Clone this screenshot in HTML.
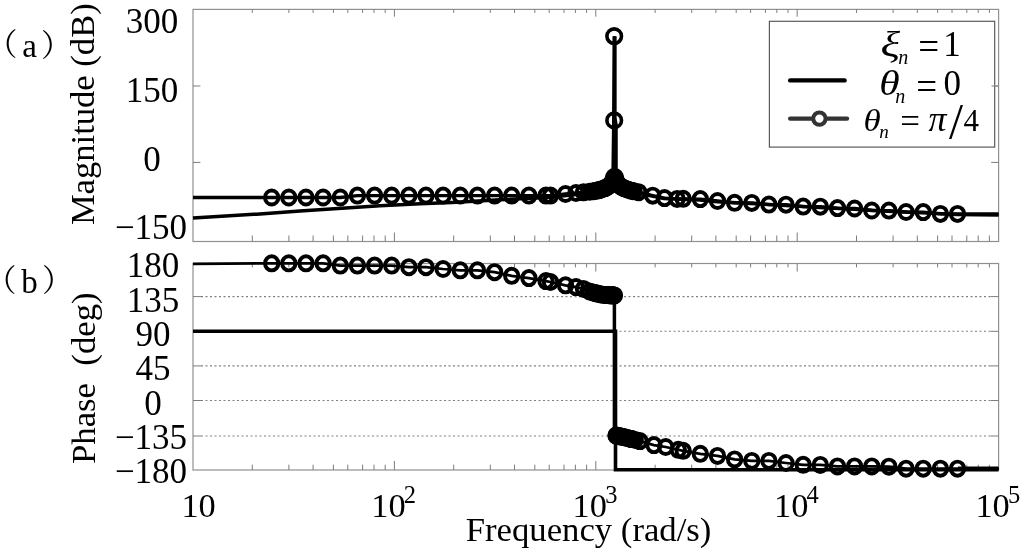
<!DOCTYPE html>
<html lang="en"><head><meta charset="utf-8"><title>Bode plot</title>
<style>html,body{margin:0;padding:0;background:#fff;}body{width:1024px;height:558px;overflow:hidden;}svg{display:block;filter:blur(0.5px);}text{font-family:"Liberation Serif","Noto Serif CJK SC",serif;fill:#000;}</style></head><body>
<svg width="1024" height="558" viewBox="0 0 1024 558">
<rect x="0" y="0" width="1024" height="558" fill="#fff"/>
<rect x="193.0" y="9.4" width="805.6" height="232.1" fill="none" stroke="#909090" stroke-width="1.2"/>
<path d="M252.3 241.5v-6.0M252.3 9.4v3.5M288.9 241.5v-6.0M288.9 9.4v3.5M313.1 241.5v-6.0M313.1 9.4v3.5M333.4 241.5v-6.0M333.4 9.4v3.5M347.8 241.5v-6.0M347.8 9.4v3.5M362.6 241.5v-6.0M362.6 9.4v3.5M374.0 241.5v-6.0M374.0 9.4v3.5M385.2 241.5v-6.0M385.2 9.4v3.5M394.4 241.5v-9.0M394.4 9.4v7.3M453.7 241.5v-6.0M453.7 9.4v3.5M490.3 241.5v-6.0M490.3 9.4v3.5M514.5 241.5v-6.0M514.5 9.4v3.5M534.8 241.5v-6.0M534.8 9.4v3.5M549.2 241.5v-6.0M549.2 9.4v3.5M564.0 241.5v-6.0M564.0 9.4v3.5M575.4 241.5v-6.0M575.4 9.4v3.5M586.6 241.5v-6.0M586.6 9.4v3.5M595.8 241.5v-9.0M595.8 9.4v7.3M655.1 241.5v-6.0M655.1 9.4v3.5M691.7 241.5v-6.0M691.7 9.4v3.5M715.9 241.5v-6.0M715.9 9.4v3.5M736.2 241.5v-6.0M736.2 9.4v3.5M750.6 241.5v-6.0M750.6 9.4v3.5M765.4 241.5v-6.0M765.4 9.4v3.5M776.8 241.5v-6.0M776.8 9.4v3.5M788.0 241.5v-6.0M788.0 9.4v3.5M797.2 241.5v-9.0M797.2 9.4v7.3M856.5 241.5v-6.0M856.5 9.4v3.5M893.1 241.5v-6.0M893.1 9.4v3.5M917.3 241.5v-6.0M917.3 9.4v3.5M937.6 241.5v-6.0M937.6 9.4v3.5M952.0 241.5v-6.0M952.0 9.4v3.5M966.8 241.5v-6.0M966.8 9.4v3.5M978.2 241.5v-6.0M978.2 9.4v3.5M989.4 241.5v-6.0M989.4 9.4v3.5M193.0 86.0h7.4M998.6 86.0h-7.4M193.0 162.4h7.4M998.6 162.4h-7.4" stroke="#7c7c7c" stroke-width="1" fill="none"/>
<line x1="201.0" y1="296.6" x2="990.6" y2="296.6" stroke="#808080" stroke-width="1.1" stroke-dasharray="2 2.5"/>
<line x1="201.0" y1="331.3" x2="990.6" y2="331.3" stroke="#808080" stroke-width="1.1" stroke-dasharray="2 2.5"/>
<line x1="201.0" y1="365.9" x2="990.6" y2="365.9" stroke="#808080" stroke-width="1.1" stroke-dasharray="2 2.5"/>
<line x1="201.0" y1="400.5" x2="990.6" y2="400.5" stroke="#808080" stroke-width="1.1" stroke-dasharray="2 2.5"/>
<line x1="201.0" y1="436.0" x2="990.6" y2="436.0" stroke="#808080" stroke-width="1.1" stroke-dasharray="2 2.5"/>
<rect x="193.0" y="263.5" width="805.6" height="206.5" fill="none" stroke="#909090" stroke-width="1.2"/>
<path d="M252.3 470.0v-5.3M252.3 263.5v3.9M288.9 470.0v-5.3M288.9 263.5v3.9M313.1 470.0v-5.3M313.1 263.5v3.9M333.4 470.0v-5.3M333.4 263.5v3.9M347.8 470.0v-5.3M347.8 263.5v3.9M362.6 470.0v-5.3M362.6 263.5v3.9M374.0 470.0v-5.3M374.0 263.5v3.9M385.2 470.0v-5.3M385.2 263.5v3.9M394.4 470.0v-9.0M394.4 263.5v8.0M453.7 470.0v-5.3M453.7 263.5v3.9M490.3 470.0v-5.3M490.3 263.5v3.9M514.5 470.0v-5.3M514.5 263.5v3.9M534.8 470.0v-5.3M534.8 263.5v3.9M549.2 470.0v-5.3M549.2 263.5v3.9M564.0 470.0v-5.3M564.0 263.5v3.9M575.4 470.0v-5.3M575.4 263.5v3.9M586.6 470.0v-5.3M586.6 263.5v3.9M595.8 470.0v-9.0M595.8 263.5v8.0M655.1 470.0v-5.3M655.1 263.5v3.9M691.7 470.0v-5.3M691.7 263.5v3.9M715.9 470.0v-5.3M715.9 263.5v3.9M736.2 470.0v-5.3M736.2 263.5v3.9M750.6 470.0v-5.3M750.6 263.5v3.9M765.4 470.0v-5.3M765.4 263.5v3.9M776.8 470.0v-5.3M776.8 263.5v3.9M788.0 470.0v-5.3M788.0 263.5v3.9M797.2 470.0v-9.0M797.2 263.5v8.0M856.5 470.0v-5.3M856.5 263.5v3.9M893.1 470.0v-5.3M893.1 263.5v3.9M917.3 470.0v-5.3M917.3 263.5v3.9M937.6 470.0v-5.3M937.6 263.5v3.9M952.0 470.0v-5.3M952.0 263.5v3.9M966.8 470.0v-5.3M966.8 263.5v3.9M978.2 470.0v-5.3M978.2 263.5v3.9M989.4 470.0v-5.3M989.4 263.5v3.9M193.0 296.6h8.0M998.6 296.6h-8.0M193.0 331.3h8.0M998.6 331.3h-8.0M193.0 365.9h8.0M998.6 365.9h-8.0M193.0 400.5h8.0M998.6 400.5h-8.0M193.0 436.0h8.0M998.6 436.0h-8.0" stroke="#7c7c7c" stroke-width="1" fill="none"/>
<g>
<polyline points="193.0,218.0 260.0,213.9 300.0,211.0 380.0,205.7 420.0,203.8 452.0,202.6 500.0,199.8 550.0,197.2 585.0,193.5 600.0,190.0 608.0,186.0 613.0,180.0 614.9,36.2 614.9,118.0 616.0,125.0 616.0,180.0 622.0,186.0 630.0,190.5 645.0,194.5 664.0,198.6 700.0,200.0 717.4,201.8 751.0,203.6 786.0,205.4 820.0,207.4 854.0,209.2 888.0,211.3 922.0,212.8 957.0,214.6 998.6,214.9" fill="none" stroke="#000" stroke-width="3.5" stroke-linejoin="miter" stroke-miterlimit="2" />
<polyline points="193.0,197.5 271.7,197.5 288.8,197.5 306.0,197.5 323.1,197.5 340.3,197.5 357.4,195.6 374.6,195.6 391.7,195.6 408.9,195.6 426.0,195.6 443.1,195.6 460.3,195.6 477.4,195.6 494.6,195.6 511.7,195.6 528.9,195.6 546.0,195.6 550.5,195.6 565.5,194.0 576.0,193.0 583.5,192.3 589.5,191.7 593.0,191.2 596.0,190.7 597.5,190.4 599.0,190.1 601.0,189.5 603.0,188.9 605.0,188.1 606.5,187.4 608.0,186.5 609.5,185.4 610.5,184.5 611.5,183.2 612.5,181.5 613.3,179.3 613.9,177.0 614.0,177.0 614.1,36.2 614.3,177.0 615.1,177.0 615.7,179.3 616.5,181.5 617.5,183.3 618.5,184.5 619.5,185.5 621.0,186.6 622.5,187.5 624.0,188.2 626.0,189.0 628.0,189.7 630.5,190.4 631.7,190.7 634.0,191.3 638.7,192.2 652.7,195.7 664.5,198.1 677.1,198.9 683.2,198.8 700.3,199.1 717.5,201.0 734.6,202.8 751.8,202.9 768.9,204.6 786.0,204.7 803.2,206.6 820.3,206.7 837.5,208.1 854.6,208.5 871.8,210.5 888.9,210.6 906.1,212.0 923.2,212.1 940.4,213.9 957.5,213.9 998.6,213.8" fill="none" stroke="#000" stroke-width="3.3" stroke-linejoin="miter" stroke-miterlimit="2" />
<ellipse cx="271.7" cy="197.5" rx="6.7" ry="7.05" fill="none" stroke="#000" stroke-width="3.9"/>
<ellipse cx="288.8" cy="197.5" rx="6.7" ry="7.05" fill="none" stroke="#000" stroke-width="3.9"/>
<ellipse cx="306.0" cy="197.5" rx="6.7" ry="7.05" fill="none" stroke="#000" stroke-width="3.9"/>
<ellipse cx="323.1" cy="197.5" rx="6.7" ry="7.05" fill="none" stroke="#000" stroke-width="3.9"/>
<ellipse cx="340.3" cy="197.5" rx="6.7" ry="7.05" fill="none" stroke="#000" stroke-width="3.9"/>
<ellipse cx="357.4" cy="195.6" rx="6.7" ry="7.05" fill="none" stroke="#000" stroke-width="3.9"/>
<ellipse cx="374.6" cy="195.6" rx="6.7" ry="7.05" fill="none" stroke="#000" stroke-width="3.9"/>
<ellipse cx="391.7" cy="195.6" rx="6.7" ry="7.05" fill="none" stroke="#000" stroke-width="3.9"/>
<ellipse cx="408.9" cy="195.6" rx="6.7" ry="7.05" fill="none" stroke="#000" stroke-width="3.9"/>
<ellipse cx="426.0" cy="195.6" rx="6.7" ry="7.05" fill="none" stroke="#000" stroke-width="3.9"/>
<ellipse cx="443.1" cy="195.6" rx="6.7" ry="7.05" fill="none" stroke="#000" stroke-width="3.9"/>
<ellipse cx="460.3" cy="195.6" rx="6.7" ry="7.05" fill="none" stroke="#000" stroke-width="3.9"/>
<ellipse cx="477.4" cy="195.6" rx="6.7" ry="7.05" fill="none" stroke="#000" stroke-width="3.9"/>
<ellipse cx="494.6" cy="195.6" rx="6.7" ry="7.05" fill="none" stroke="#000" stroke-width="3.9"/>
<ellipse cx="511.7" cy="195.6" rx="6.7" ry="7.05" fill="none" stroke="#000" stroke-width="3.9"/>
<ellipse cx="528.9" cy="195.6" rx="6.7" ry="7.05" fill="none" stroke="#000" stroke-width="3.9"/>
<ellipse cx="546.0" cy="195.6" rx="6.7" ry="7.05" fill="none" stroke="#000" stroke-width="3.9"/>
<ellipse cx="550.5" cy="195.6" rx="6.7" ry="7.05" fill="none" stroke="#000" stroke-width="3.9"/>
<ellipse cx="565.5" cy="194.0" rx="6.7" ry="7.05" fill="none" stroke="#000" stroke-width="3.9"/>
<ellipse cx="576.0" cy="193.0" rx="6.7" ry="7.05" fill="none" stroke="#000" stroke-width="3.9"/>
<ellipse cx="583.5" cy="192.3" rx="6.7" ry="7.05" fill="none" stroke="#000" stroke-width="3.9"/>
<ellipse cx="589.5" cy="191.7" rx="6.7" ry="7.05" fill="none" stroke="#000" stroke-width="3.9"/>
<ellipse cx="593.0" cy="191.2" rx="6.7" ry="7.05" fill="none" stroke="#000" stroke-width="3.9"/>
<ellipse cx="596.0" cy="190.7" rx="6.7" ry="7.05" fill="none" stroke="#000" stroke-width="3.9"/>
<ellipse cx="597.5" cy="190.4" rx="6.7" ry="7.05" fill="none" stroke="#000" stroke-width="3.9"/>
<ellipse cx="599.0" cy="190.1" rx="6.7" ry="7.05" fill="none" stroke="#000" stroke-width="3.9"/>
<ellipse cx="601.0" cy="189.5" rx="6.7" ry="7.05" fill="none" stroke="#000" stroke-width="3.9"/>
<ellipse cx="603.0" cy="188.9" rx="6.7" ry="7.05" fill="none" stroke="#000" stroke-width="3.9"/>
<ellipse cx="605.0" cy="188.1" rx="6.7" ry="7.05" fill="none" stroke="#000" stroke-width="3.9"/>
<ellipse cx="606.5" cy="187.4" rx="6.7" ry="7.05" fill="none" stroke="#000" stroke-width="3.9"/>
<ellipse cx="608.0" cy="186.5" rx="6.7" ry="7.05" fill="none" stroke="#000" stroke-width="3.9"/>
<ellipse cx="609.5" cy="185.4" rx="6.7" ry="7.05" fill="none" stroke="#000" stroke-width="3.9"/>
<ellipse cx="610.5" cy="184.5" rx="6.7" ry="7.05" fill="none" stroke="#000" stroke-width="3.9"/>
<ellipse cx="611.5" cy="183.2" rx="6.7" ry="7.05" fill="none" stroke="#000" stroke-width="3.9"/>
<ellipse cx="612.5" cy="181.5" rx="6.7" ry="7.05" fill="none" stroke="#000" stroke-width="3.9"/>
<ellipse cx="613.3" cy="179.3" rx="6.7" ry="7.05" fill="none" stroke="#000" stroke-width="3.9"/>
<ellipse cx="613.9" cy="177.0" rx="6.7" ry="7.05" fill="none" stroke="#000" stroke-width="3.9"/>
<ellipse cx="615.1" cy="177.0" rx="6.7" ry="7.05" fill="none" stroke="#000" stroke-width="3.9"/>
<ellipse cx="615.7" cy="179.3" rx="6.7" ry="7.05" fill="none" stroke="#000" stroke-width="3.9"/>
<ellipse cx="616.5" cy="181.5" rx="6.7" ry="7.05" fill="none" stroke="#000" stroke-width="3.9"/>
<ellipse cx="617.5" cy="183.3" rx="6.7" ry="7.05" fill="none" stroke="#000" stroke-width="3.9"/>
<ellipse cx="618.5" cy="184.5" rx="6.7" ry="7.05" fill="none" stroke="#000" stroke-width="3.9"/>
<ellipse cx="619.5" cy="185.5" rx="6.7" ry="7.05" fill="none" stroke="#000" stroke-width="3.9"/>
<ellipse cx="621.0" cy="186.6" rx="6.7" ry="7.05" fill="none" stroke="#000" stroke-width="3.9"/>
<ellipse cx="622.5" cy="187.5" rx="6.7" ry="7.05" fill="none" stroke="#000" stroke-width="3.9"/>
<ellipse cx="624.0" cy="188.2" rx="6.7" ry="7.05" fill="none" stroke="#000" stroke-width="3.9"/>
<ellipse cx="626.0" cy="189.0" rx="6.7" ry="7.05" fill="none" stroke="#000" stroke-width="3.9"/>
<ellipse cx="628.0" cy="189.7" rx="6.7" ry="7.05" fill="none" stroke="#000" stroke-width="3.9"/>
<ellipse cx="630.5" cy="190.4" rx="6.7" ry="7.05" fill="none" stroke="#000" stroke-width="3.9"/>
<ellipse cx="631.7" cy="190.7" rx="6.7" ry="7.05" fill="none" stroke="#000" stroke-width="3.9"/>
<ellipse cx="634.0" cy="191.3" rx="6.7" ry="7.05" fill="none" stroke="#000" stroke-width="3.9"/>
<ellipse cx="638.7" cy="192.2" rx="6.7" ry="7.05" fill="none" stroke="#000" stroke-width="3.9"/>
<ellipse cx="652.7" cy="195.7" rx="6.7" ry="7.05" fill="none" stroke="#000" stroke-width="3.9"/>
<ellipse cx="664.5" cy="198.1" rx="6.7" ry="7.05" fill="none" stroke="#000" stroke-width="3.9"/>
<ellipse cx="677.1" cy="198.9" rx="6.7" ry="7.05" fill="none" stroke="#000" stroke-width="3.9"/>
<ellipse cx="683.2" cy="198.8" rx="6.7" ry="7.05" fill="none" stroke="#000" stroke-width="3.9"/>
<ellipse cx="700.3" cy="199.1" rx="6.7" ry="7.05" fill="none" stroke="#000" stroke-width="3.9"/>
<ellipse cx="717.5" cy="201.0" rx="6.7" ry="7.05" fill="none" stroke="#000" stroke-width="3.9"/>
<ellipse cx="734.6" cy="202.8" rx="6.7" ry="7.05" fill="none" stroke="#000" stroke-width="3.9"/>
<ellipse cx="751.8" cy="202.9" rx="6.7" ry="7.05" fill="none" stroke="#000" stroke-width="3.9"/>
<ellipse cx="768.9" cy="204.6" rx="6.7" ry="7.05" fill="none" stroke="#000" stroke-width="3.9"/>
<ellipse cx="786.0" cy="204.7" rx="6.7" ry="7.05" fill="none" stroke="#000" stroke-width="3.9"/>
<ellipse cx="803.2" cy="206.6" rx="6.7" ry="7.05" fill="none" stroke="#000" stroke-width="3.9"/>
<ellipse cx="820.3" cy="206.7" rx="6.7" ry="7.05" fill="none" stroke="#000" stroke-width="3.9"/>
<ellipse cx="837.5" cy="208.1" rx="6.7" ry="7.05" fill="none" stroke="#000" stroke-width="3.9"/>
<ellipse cx="854.6" cy="208.5" rx="6.7" ry="7.05" fill="none" stroke="#000" stroke-width="3.9"/>
<ellipse cx="871.8" cy="210.5" rx="6.7" ry="7.05" fill="none" stroke="#000" stroke-width="3.9"/>
<ellipse cx="888.9" cy="210.6" rx="6.7" ry="7.05" fill="none" stroke="#000" stroke-width="3.9"/>
<ellipse cx="906.1" cy="212.0" rx="6.7" ry="7.05" fill="none" stroke="#000" stroke-width="3.9"/>
<ellipse cx="923.2" cy="212.1" rx="6.7" ry="7.05" fill="none" stroke="#000" stroke-width="3.9"/>
<ellipse cx="940.4" cy="213.9" rx="6.7" ry="7.05" fill="none" stroke="#000" stroke-width="3.9"/>
<ellipse cx="957.5" cy="213.9" rx="6.7" ry="7.05" fill="none" stroke="#000" stroke-width="3.9"/>
<ellipse cx="614.2" cy="36.2" rx="7.3" ry="7.3" fill="none" stroke="#000" stroke-width="3.6"/>
<ellipse cx="614.2" cy="120.4" rx="7.3" ry="7.3" fill="none" stroke="#000" stroke-width="3.6"/>
</g>
<g>
<polyline points="193.0,331.3 615.5,331.3 615.5,469.8 998.6,469.8" fill="none" stroke="#000" stroke-width="3.6" stroke-linejoin="miter" stroke-miterlimit="2" />
<polyline points="193.0,263.9 271.7,263.3 288.8,263.3 306.0,263.3 323.1,263.3 340.3,265.6 357.4,265.6 374.6,265.6 391.7,265.6 408.9,267.2 426.0,267.2 443.1,269.0 460.3,270.3 477.4,270.3 494.6,272.2 511.7,275.8 528.9,278.1 546.0,281.1 550.5,282.0 565.5,285.3 576.0,287.1 583.5,288.9 589.5,291.4 593.0,292.5 596.0,293.3 597.5,293.6 599.0,294.0 601.0,294.4 603.0,294.7 605.0,295.0 606.5,295.1 608.0,295.1 609.5,295.2 610.5,295.2 611.5,295.3 612.5,295.3 613.3,295.3 613.9,295.4 614.4,295.4 614.4,295.4 614.4,435.5 616.0,435.5 616.3,435.6 616.9,435.7 617.7,435.8 618.7,436.0 619.7,436.2 620.7,436.4 622.2,436.7 623.7,437.0 625.2,437.4 627.2,437.9 629.2,438.4 631.7,439.1 631.7,439.1 635.2,440.0 639.9,441.1 653.9,445.1 665.7,447.0 678.3,449.8 683.2,450.8 700.3,453.8 717.5,455.9 734.6,459.4 751.8,460.9 768.9,460.9 786.0,463.0 803.2,464.8 820.3,464.9 837.5,466.4 854.6,466.4 871.8,466.4 888.9,466.7 906.1,468.7 923.2,468.7 940.4,468.7 957.5,468.7 998.6,468.7" fill="none" stroke="#000" stroke-width="2.7" stroke-linejoin="miter" stroke-miterlimit="2" />
<line x1="614.4" y1="296" x2="614.4" y2="436" stroke="#000" stroke-width="3.5"/>
<line x1="958" y1="468.5" x2="998.6" y2="468.3" stroke="#000" stroke-width="3.8"/>
<ellipse cx="271.7" cy="263.3" rx="6.7" ry="7.05" fill="none" stroke="#000" stroke-width="3.9"/>
<ellipse cx="288.8" cy="263.3" rx="6.7" ry="7.05" fill="none" stroke="#000" stroke-width="3.9"/>
<ellipse cx="306.0" cy="263.3" rx="6.7" ry="7.05" fill="none" stroke="#000" stroke-width="3.9"/>
<ellipse cx="323.1" cy="263.3" rx="6.7" ry="7.05" fill="none" stroke="#000" stroke-width="3.9"/>
<ellipse cx="340.3" cy="265.6" rx="6.7" ry="7.05" fill="none" stroke="#000" stroke-width="3.9"/>
<ellipse cx="357.4" cy="265.6" rx="6.7" ry="7.05" fill="none" stroke="#000" stroke-width="3.9"/>
<ellipse cx="374.6" cy="265.6" rx="6.7" ry="7.05" fill="none" stroke="#000" stroke-width="3.9"/>
<ellipse cx="391.7" cy="265.6" rx="6.7" ry="7.05" fill="none" stroke="#000" stroke-width="3.9"/>
<ellipse cx="408.9" cy="267.2" rx="6.7" ry="7.05" fill="none" stroke="#000" stroke-width="3.9"/>
<ellipse cx="426.0" cy="267.2" rx="6.7" ry="7.05" fill="none" stroke="#000" stroke-width="3.9"/>
<ellipse cx="443.1" cy="269.0" rx="6.7" ry="7.05" fill="none" stroke="#000" stroke-width="3.9"/>
<ellipse cx="460.3" cy="270.3" rx="6.7" ry="7.05" fill="none" stroke="#000" stroke-width="3.9"/>
<ellipse cx="477.4" cy="270.3" rx="6.7" ry="7.05" fill="none" stroke="#000" stroke-width="3.9"/>
<ellipse cx="494.6" cy="272.2" rx="6.7" ry="7.05" fill="none" stroke="#000" stroke-width="3.9"/>
<ellipse cx="511.7" cy="275.8" rx="6.7" ry="7.05" fill="none" stroke="#000" stroke-width="3.9"/>
<ellipse cx="528.9" cy="278.1" rx="6.7" ry="7.05" fill="none" stroke="#000" stroke-width="3.9"/>
<ellipse cx="546.0" cy="281.1" rx="6.7" ry="7.05" fill="none" stroke="#000" stroke-width="3.9"/>
<ellipse cx="550.5" cy="282.0" rx="6.7" ry="7.05" fill="none" stroke="#000" stroke-width="3.9"/>
<ellipse cx="565.5" cy="285.3" rx="6.7" ry="7.05" fill="none" stroke="#000" stroke-width="3.9"/>
<ellipse cx="576.0" cy="287.1" rx="6.7" ry="7.05" fill="none" stroke="#000" stroke-width="3.9"/>
<ellipse cx="583.5" cy="288.9" rx="6.7" ry="7.05" fill="none" stroke="#000" stroke-width="3.9"/>
<ellipse cx="589.5" cy="291.4" rx="6.7" ry="7.05" fill="none" stroke="#000" stroke-width="3.9"/>
<ellipse cx="593.0" cy="292.5" rx="6.7" ry="7.05" fill="none" stroke="#000" stroke-width="3.9"/>
<ellipse cx="596.0" cy="293.3" rx="6.7" ry="7.05" fill="none" stroke="#000" stroke-width="3.9"/>
<ellipse cx="597.5" cy="293.6" rx="6.7" ry="7.05" fill="none" stroke="#000" stroke-width="3.9"/>
<ellipse cx="599.0" cy="294.0" rx="6.7" ry="7.05" fill="none" stroke="#000" stroke-width="3.9"/>
<ellipse cx="601.0" cy="294.4" rx="6.7" ry="7.05" fill="none" stroke="#000" stroke-width="3.9"/>
<ellipse cx="603.0" cy="294.7" rx="6.7" ry="7.05" fill="none" stroke="#000" stroke-width="3.9"/>
<ellipse cx="605.0" cy="295.0" rx="6.7" ry="7.05" fill="none" stroke="#000" stroke-width="3.9"/>
<ellipse cx="606.5" cy="295.1" rx="6.7" ry="7.05" fill="none" stroke="#000" stroke-width="3.9"/>
<ellipse cx="608.0" cy="295.1" rx="6.7" ry="7.05" fill="none" stroke="#000" stroke-width="3.9"/>
<ellipse cx="609.5" cy="295.2" rx="6.7" ry="7.05" fill="none" stroke="#000" stroke-width="3.9"/>
<ellipse cx="610.5" cy="295.2" rx="6.7" ry="7.05" fill="none" stroke="#000" stroke-width="3.9"/>
<ellipse cx="611.5" cy="295.3" rx="6.7" ry="7.05" fill="none" stroke="#000" stroke-width="3.9"/>
<ellipse cx="612.5" cy="295.3" rx="6.7" ry="7.05" fill="none" stroke="#000" stroke-width="3.9"/>
<ellipse cx="613.3" cy="295.3" rx="6.7" ry="7.05" fill="none" stroke="#000" stroke-width="3.9"/>
<ellipse cx="613.9" cy="295.4" rx="6.7" ry="7.05" fill="none" stroke="#000" stroke-width="3.9"/>
<ellipse cx="614.4" cy="295.4" rx="6.7" ry="7.05" fill="none" stroke="#000" stroke-width="3.9"/>
<ellipse cx="616.0" cy="435.5" rx="6.7" ry="7.05" fill="none" stroke="#000" stroke-width="3.9"/>
<ellipse cx="616.3" cy="435.6" rx="6.7" ry="7.05" fill="none" stroke="#000" stroke-width="3.9"/>
<ellipse cx="616.9" cy="435.7" rx="6.7" ry="7.05" fill="none" stroke="#000" stroke-width="3.9"/>
<ellipse cx="617.7" cy="435.8" rx="6.7" ry="7.05" fill="none" stroke="#000" stroke-width="3.9"/>
<ellipse cx="618.7" cy="436.0" rx="6.7" ry="7.05" fill="none" stroke="#000" stroke-width="3.9"/>
<ellipse cx="619.7" cy="436.2" rx="6.7" ry="7.05" fill="none" stroke="#000" stroke-width="3.9"/>
<ellipse cx="620.7" cy="436.4" rx="6.7" ry="7.05" fill="none" stroke="#000" stroke-width="3.9"/>
<ellipse cx="622.2" cy="436.7" rx="6.7" ry="7.05" fill="none" stroke="#000" stroke-width="3.9"/>
<ellipse cx="623.7" cy="437.0" rx="6.7" ry="7.05" fill="none" stroke="#000" stroke-width="3.9"/>
<ellipse cx="625.2" cy="437.4" rx="6.7" ry="7.05" fill="none" stroke="#000" stroke-width="3.9"/>
<ellipse cx="627.2" cy="437.9" rx="6.7" ry="7.05" fill="none" stroke="#000" stroke-width="3.9"/>
<ellipse cx="629.2" cy="438.4" rx="6.7" ry="7.05" fill="none" stroke="#000" stroke-width="3.9"/>
<ellipse cx="631.7" cy="439.1" rx="6.7" ry="7.05" fill="none" stroke="#000" stroke-width="3.9"/>
<ellipse cx="631.7" cy="439.1" rx="6.7" ry="7.05" fill="none" stroke="#000" stroke-width="3.9"/>
<ellipse cx="635.2" cy="440.0" rx="6.7" ry="7.05" fill="none" stroke="#000" stroke-width="3.9"/>
<ellipse cx="639.9" cy="441.1" rx="6.7" ry="7.05" fill="none" stroke="#000" stroke-width="3.9"/>
<ellipse cx="653.9" cy="445.1" rx="6.7" ry="7.05" fill="none" stroke="#000" stroke-width="3.9"/>
<ellipse cx="665.7" cy="447.0" rx="6.7" ry="7.05" fill="none" stroke="#000" stroke-width="3.9"/>
<ellipse cx="678.3" cy="449.8" rx="6.7" ry="7.05" fill="none" stroke="#000" stroke-width="3.9"/>
<ellipse cx="683.2" cy="450.8" rx="6.7" ry="7.05" fill="none" stroke="#000" stroke-width="3.9"/>
<ellipse cx="700.3" cy="453.8" rx="6.7" ry="7.05" fill="none" stroke="#000" stroke-width="3.9"/>
<ellipse cx="717.5" cy="455.9" rx="6.7" ry="7.05" fill="none" stroke="#000" stroke-width="3.9"/>
<ellipse cx="734.6" cy="459.4" rx="6.7" ry="7.05" fill="none" stroke="#000" stroke-width="3.9"/>
<ellipse cx="751.8" cy="460.9" rx="6.7" ry="7.05" fill="none" stroke="#000" stroke-width="3.9"/>
<ellipse cx="768.9" cy="460.9" rx="6.7" ry="7.05" fill="none" stroke="#000" stroke-width="3.9"/>
<ellipse cx="786.0" cy="463.0" rx="6.7" ry="7.05" fill="none" stroke="#000" stroke-width="3.9"/>
<ellipse cx="803.2" cy="464.8" rx="6.7" ry="7.05" fill="none" stroke="#000" stroke-width="3.9"/>
<ellipse cx="820.3" cy="464.9" rx="6.7" ry="7.05" fill="none" stroke="#000" stroke-width="3.9"/>
<ellipse cx="837.5" cy="466.4" rx="6.7" ry="7.05" fill="none" stroke="#000" stroke-width="3.9"/>
<ellipse cx="854.6" cy="466.4" rx="6.7" ry="7.05" fill="none" stroke="#000" stroke-width="3.9"/>
<ellipse cx="871.8" cy="466.4" rx="6.7" ry="7.05" fill="none" stroke="#000" stroke-width="3.9"/>
<ellipse cx="888.9" cy="466.7" rx="6.7" ry="7.05" fill="none" stroke="#000" stroke-width="3.9"/>
<ellipse cx="906.1" cy="468.7" rx="6.7" ry="7.05" fill="none" stroke="#000" stroke-width="3.9"/>
<ellipse cx="923.2" cy="468.7" rx="6.7" ry="7.05" fill="none" stroke="#000" stroke-width="3.9"/>
<ellipse cx="940.4" cy="468.7" rx="6.7" ry="7.05" fill="none" stroke="#000" stroke-width="3.9"/>
<ellipse cx="957.5" cy="468.7" rx="6.7" ry="7.05" fill="none" stroke="#000" stroke-width="3.9"/>
</g>
<rect x="769.4" y="21.3" width="225.3" height="125.8" fill="#fff" stroke="#5a5a5a" stroke-width="1.2"/>
<line x1="991.6" y1="86" x2="998.6" y2="86" stroke="#909090" stroke-width="1.2"/>
<line x1="790.2" y1="80.4" x2="844.6" y2="80.4" stroke="#000" stroke-width="4.4" stroke-linecap="round"/>
<line x1="790.2" y1="118.6" x2="847" y2="118.6" stroke="#333" stroke-width="4.4" stroke-linecap="round"/>
<circle cx="819.4" cy="118.6" r="6.2" fill="#fff" stroke="#333" stroke-width="4"/>
<text font-size="35"><tspan x="880.5" y="56.1" font-style="italic" textLength="19.5" lengthAdjust="spacingAndGlyphs">ξ</tspan><tspan x="898.3" y="63.6" font-style="italic" font-size="20">n</tspan><tspan x="918.2" y="59.3" font-size="37">=</tspan><tspan x="943.2" y="56.1">1</tspan></text>
<text font-size="35"><tspan x="879.3" y="94.8" font-style="italic" textLength="20.4" lengthAdjust="spacingAndGlyphs">θ</tspan><tspan x="895.3" y="102.8" font-style="italic" font-size="20">n</tspan><tspan x="916.2" y="98.6" font-size="37">=</tspan><tspan x="943.6" y="94.8">0</tspan></text>
<text font-size="31"><tspan x="863.6" y="130.6" font-style="italic" textLength="17.2" lengthAdjust="spacingAndGlyphs">θ</tspan><tspan x="879.3" y="137.8" font-style="italic" font-size="19">n</tspan><tspan x="900.2" y="133.2" font-size="35">=</tspan><tspan x="928.4" y="130.6" font-style="italic" font-size="36">π</tspan><tspan x="948.9" y="138.4" font-size="50.5">/</tspan><tspan x="963.6" y="130.6" font-size="31">4</tspan></text>
<text x="152" y="32.8" font-size="35" text-anchor="middle" >300</text>
<text x="152" y="102" font-size="35" text-anchor="middle" >150</text>
<text x="152" y="171.0" font-size="35" text-anchor="middle" >0</text>
<text x="151" y="238.8" font-size="35" text-anchor="middle" >−150</text>
<text x="153" y="277.4" font-size="35" text-anchor="middle" >180</text>
<text x="153" y="311.7" font-size="35" text-anchor="middle" >135</text>
<text x="153" y="346.1" font-size="35" text-anchor="middle" >90</text>
<text x="153" y="380.4" font-size="35" text-anchor="middle" >45</text>
<text x="153" y="414.7" font-size="35" text-anchor="middle" >0</text>
<text x="151" y="449.1" font-size="35" text-anchor="middle" >−135</text>
<text x="151" y="483.4" font-size="35" text-anchor="middle" >−180</text>
<text x="198.6" y="517" font-size="34.4" text-anchor="middle" >10</text>
<text x="371.2" y="517" font-size="34.4">10<tspan font-size="24.5" dy="-14.5" dx="-1.8">2</tspan></text>
<text x="572.6" y="517" font-size="34.4">10<tspan font-size="24.5" dy="-14.5" dx="-1.8">3</tspan></text>
<text x="774.0" y="517" font-size="34.4">10<tspan font-size="24.5" dy="-14.5" dx="-1.8">4</tspan></text>
<text x="975.4" y="517" font-size="34.4">10<tspan font-size="24.5" dy="-14.5" dx="-1.8">5</tspan></text>
<text x="588.6" y="541.2" font-size="34.7" text-anchor="middle" >Frequency (rad/s)</text>
<text transform="translate(93.6,114.2) rotate(-90)" font-size="34.6" text-anchor="middle">Magnitude (dB)</text>
<text transform="translate(94.6,378.2) rotate(-90)" font-size="34.7" text-anchor="middle" xml:space="preserve">Phase  (deg)</text>
<text font-size="33"><tspan x="-13.5" y="55.2" font-size="31">（</tspan><tspan x="22.3" y="57.2">a</tspan><tspan x="41" y="55.5" font-size="31">）</tspan></text>
<text font-size="33"><tspan x="-14.5" y="291.3" font-size="31">（</tspan><tspan x="21.2" y="292.6">b</tspan><tspan x="42" y="291.3" font-size="31">）</tspan></text>
</svg></body></html>
